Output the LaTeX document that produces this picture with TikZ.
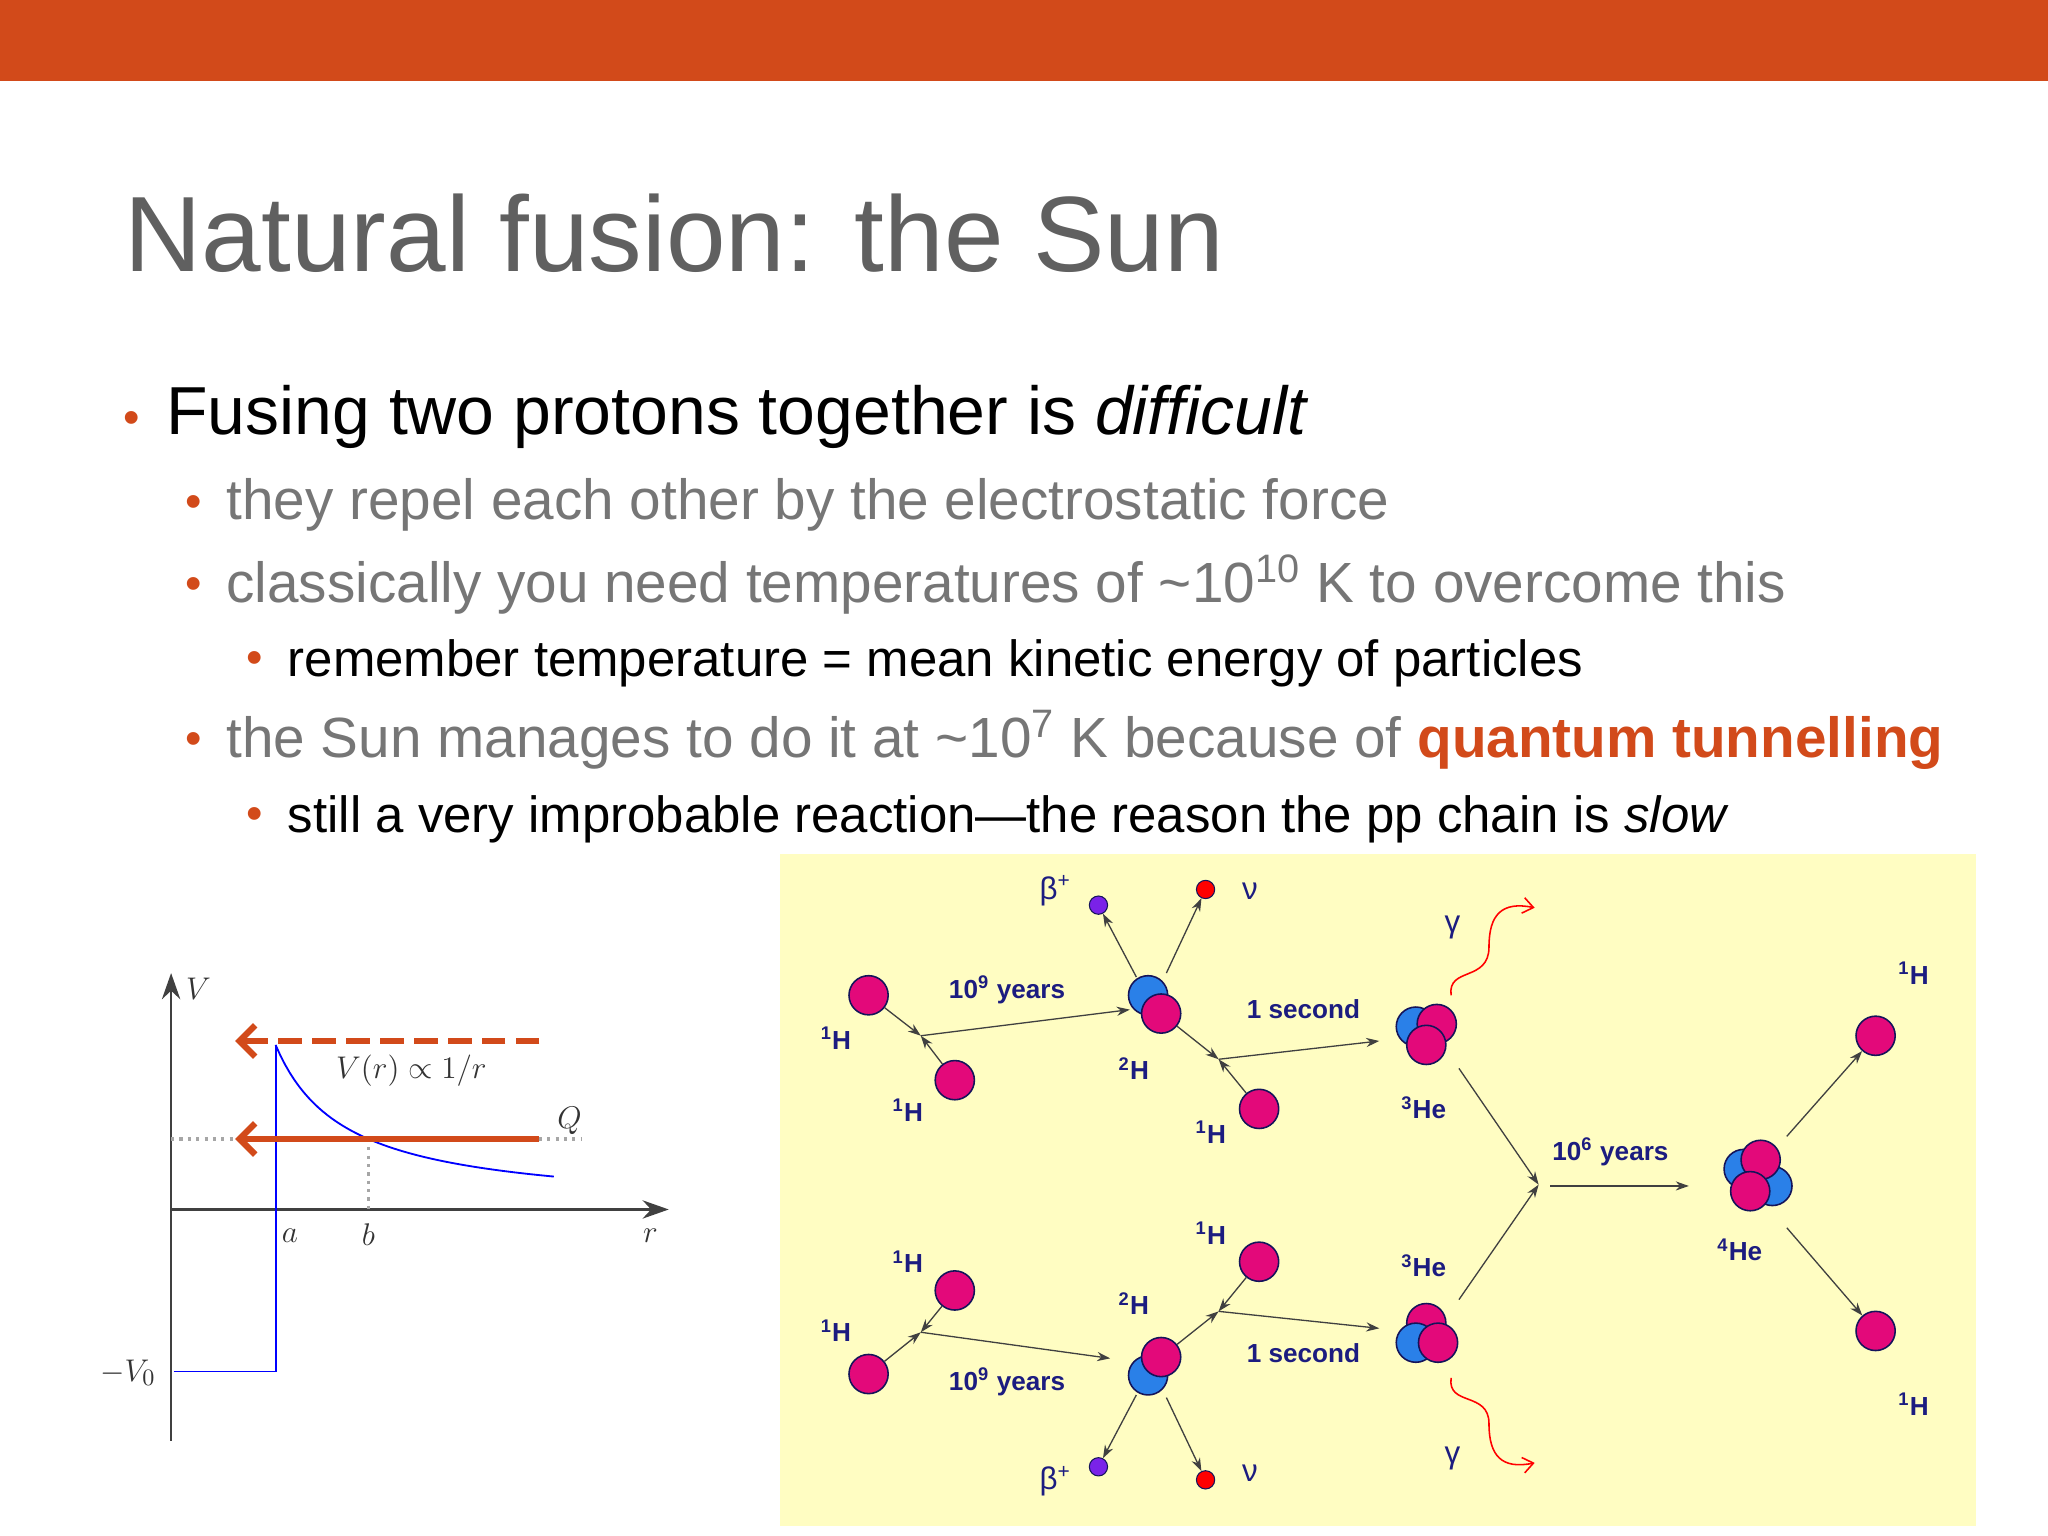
\documentclass[tikz,border=0pt]{standalone}
\usepackage{fontspec}
\setmainfont{Liberation Sans}
\usetikzlibrary{arrows.meta}
\definecolor{orng}{HTML}{D24A1A}
\definecolor{ttl}{HTML}{606060}
\definecolor{sub}{HTML}{767676}
\definecolor{pnl}{HTML}{FFFDC2}
\definecolor{pk}{HTML}{E3097A}
\definecolor{bl}{HTML}{2A80E8}
\definecolor{nv}{HTML}{1C1C80}
\definecolor{pu}{HTML}{7A22E8}
\tikzset{
 ln1/.style={anchor=base west,font=\fontsize{26}{30}\selectfont,text=black,inner sep=0},
 ln2/.style={anchor=base west,font=\fontsize{21.7}{26}\selectfont,text=sub,inner sep=0},
 ln3/.style={anchor=base west,font=\fontsize{19.5}{23}\selectfont,text=black,inner sep=0},
 bul/.style={anchor=base,text=orng,inner sep=0,font=\fontsize{18}{20}\selectfont},
 pt/.style={circle,draw=nv!70!black,line width=0.6pt,fill=pk,minimum size=15pt,inner sep=0},
 bt/.style={circle,draw=nv!70!black,line width=0.6pt,fill=bl,minimum size=15pt,inner sep=0},
 sm/.style={circle,draw=nv!70!black,line width=0.4pt,minimum size=7pt,inner sep=0},
 lb/.style={text=nv,font=\bfseries\fontsize{10}{12}\selectfont,inner sep=0},
 ar/.style={-{Stealth[length=5pt,width=3.5pt]},draw=black!75,line width=0.5pt},
 ax/.style={line width=1pt,draw=black!75},
 mth/.style={font=\fontsize{13}{15}\selectfont,text=black!80,inner sep=0},
 oar/.style={draw=orng,line width=2.4pt,-{Straight Barb[length=6pt,width=12pt]}},
 gam/.style={draw=red,line width=0.6pt,-{Straight Barb[length=4pt,width=6pt]}}
}
\begin{document}
\begin{tikzpicture}[x=0.5pt,y=-0.5pt]
\useasboundingbox (0,0) rectangle (1568,1176);
\fill[white] (0,0) rectangle (1568,1176);
\fill[orng] (0,0) rectangle (1568,62);
\node[anchor=base west,inner sep=0,text=ttl,font=\fontsize{41}{48}\selectfont] (title) at (95,208) {Natural fusion: the Sun};
% bullets
\node[bul] (b1) at (101,332) {•};
\node[ln1] (t1) at (127,333) {Fusing two protons together is \textit{difficult}};
\node[bul] (b2) at (148,396) {•};
\node[ln2] (t2) at (173,398) {they repel each other by the electrostatic force};
\node[bul] (b3) at (148,459) {•};
\node[ln2] (t3) at (173,461) {classically you need temperatures of \textasciitilde10\textsuperscript{10} K to overcome this};
\node[bul] (b4) at (195,516) {•};
\node[ln3] (t4) at (220,518) {remember temperature = mean kinetic energy of particles};
\node[bul] (b5) at (148,578) {•};
\node[ln2] (t5) at (173,580) {the Sun manages to do it at \textasciitilde10\textsuperscript{7} K because of \textcolor{orng}{\bfseries quantum tunnelling}};
\node[bul] (b6) at (195,635) {•};
\node[ln3] (t6) at (220,637) {still a very improbable reaction—the reason the pp chain is \textit{slow}};
% potential graph
\coordinate (O) at (131,926);
\coordinate (Vt) at (131,745);
\coordinate (Vb) at (131,1103);
\coordinate (Rt) at (512,926);
\draw[ax,-{Stealth[length=10pt,width=7pt]}] (Vb) -- (Vt);
\draw[ax,-{Stealth[length=10pt,width=7pt]}] (O) -- (Rt);
\draw[gray!70,dotted,line width=1.2pt] (131,872) -- (445,872);
\draw[gray!70,dotted,line width=1.2pt] (282,872) -- (282,926);
\draw[blue,line width=0.7pt] (133,1050) -- (211,1050) -- (211,800);
\draw[blue,line width=0.7pt] plot[domain=211:424,samples=60] (\x,{926-6710/(\x-157.75)});
\coordinate (d1) at (413,797); \coordinate (d2) at (180,797);
\coordinate (s1) at (413,872); \coordinate (s2) at (180,872);
\draw[oar,dash pattern=on 9pt off 4pt] (d1) -- (d2);
\draw[oar] (s1) -- (s2);
\node[mth] (lV) at (152,757) {$V$};
\node[mth] (lVr) at (315,820) {$V(r)\propto 1/r$};
\node[mth] (lQ) at (436,858) {$Q$};
\node[mth] (la) at (222,946) {$a$};
\node[mth] (lb) at (282,945) {$b$};
\node[mth] (lr) at (498,946) {$r$};
\node[mth] (lV0) at (98,1051) {$-V_0$};
% panel
\fill[pnl] (597,654) rectangle (1513,1168);
% top chain
\node[pt] (h1) at (665,762) {};
\node[pt] (h2) at (731,827) {};
\coordinate (j1) at (705,793);
\draw[ar] (h1) -- (j1); \draw[ar] (h2) -- (j1);
\node[bt] (d2b) at (879,762) {}; \node[pt] (d2p) at (889,776) {};
\draw[ar] (j1) -- (865,773);
\node[sm,fill=pu] (bp1) at (841,693) {};
\node[sm,fill=red] (nu1) at (923,681) {};
\draw[ar] (870,748) -- (bp1); \draw[ar] (893,745) -- (nu1);
\coordinate (j2) at (933,811);
\draw[ar] (d2p) -- (j2);
\node[pt] (h3) at (964,849) {};
\draw[ar] (h3) -- (j2);
\node[bt] (e1) at (1084,786) {}; \node[pt] (e2) at (1100,784) {}; \node[pt] (e3) at (1092,800) {};
\draw[ar] (j2) -- (1056,797);
\draw[gam] (1111,762) .. controls (1108,740) and (1140,752) .. (1140,725) .. controls (1140,700) and (1150,690) .. (1175,695);
% bottom chain
\node[pt] (h4) at (665,1052) {};
\node[pt] (h5) at (731,988) {};
\coordinate (j3) at (705,1020);
\draw[ar] (h4) -- (j3); \draw[ar] (h5) -- (j3);
\node[bt] (d4b) at (879,1053) {}; \node[pt] (d4p) at (889,1039) {};
\draw[ar] (j3) -- (850,1040);
\node[sm,fill=pu] (bp2) at (841,1123) {};
\node[sm,fill=red] (nu2) at (923,1133) {};
\draw[ar] (870,1068) -- (bp2); \draw[ar] (893,1070) -- (nu2);
\coordinate (j4) at (933,1004);
\draw[ar] (d4p) -- (j4);
\node[pt] (h6) at (964,966) {};
\draw[ar] (h6) -- (j4);
\node[pt] (f1) at (1092,1013) {}; \node[bt] (f2) at (1084,1028) {}; \node[pt] (f3) at (1101,1028) {};
\draw[ar] (j4) -- (1056,1017);
\draw[gam] (1111,1055) .. controls (1108,1077) and (1140,1065) .. (1140,1090) .. controls (1140,1115) and (1150,1125) .. (1175,1120);
% merge
\coordinate (m) at (1178,907);
\draw[ar] (1117,818) -- (m); \draw[ar] (1117,995) -- (m);
\node[bt] (g1) at (1335,895) {}; \node[bt] (g2) at (1357,908) {};
\node[pt] (g3) at (1348,888) {}; \node[pt] (g4) at (1340,912) {};
\draw[ar] (1187,908) -- (1293,908);
\node[pt] (h7) at (1436,793) {};
\node[pt] (h8) at (1436,1019) {};
\draw[ar] (1368,870) -- (h7); \draw[ar] (1368,940) -- (h8);
% labels
\node[lb] at (640,795) {\textsuperscript{1}H};
\node[lb] at (695,850) {\textsuperscript{1}H};
\node[lb] at (771,758) {10\textsuperscript{9} years};
\node[lb] at (868,818) {\textsuperscript{2}H};
\node[lb,font=\fontsize{12}{14}\selectfont] at (808,682) {β\textsuperscript{+}};
\node[lb,font=\fontsize{12}{14}\selectfont] at (957,682) {ν};
\node[lb] at (927,867) {\textsuperscript{1}H};
\node[lb] at (998,773) {1 second};
\node[lb] at (1090,848) {\textsuperscript{3}He};
\node[lb,font=\fontsize{12}{14}\selectfont] at (1112,710) {γ};
\node[lb] at (695,966) {\textsuperscript{1}H};
\node[lb] at (640,1019) {\textsuperscript{1}H};
\node[lb] at (771,1058) {10\textsuperscript{9} years};
\node[lb] at (868,998) {\textsuperscript{2}H};
\node[lb,font=\fontsize{12}{14}\selectfont] at (808,1134) {β\textsuperscript{+}};
\node[lb,font=\fontsize{12}{14}\selectfont] at (957,1128) {ν};
\node[lb] at (927,944) {\textsuperscript{1}H};
\node[lb] at (998,1036) {1 second};
\node[lb] at (1090,969) {\textsuperscript{3}He};
\node[lb,font=\fontsize{12}{14}\selectfont] at (1112,1117) {γ};
\node[lb] at (1233,882) {10\textsuperscript{6} years};
\node[lb] at (1332,957) {\textsuperscript{4}He};
\node[lb] at (1465,745) {\textsuperscript{1}H};
\node[lb] at (1465,1075) {\textsuperscript{1}H};
\end{tikzpicture}
\end{document}
